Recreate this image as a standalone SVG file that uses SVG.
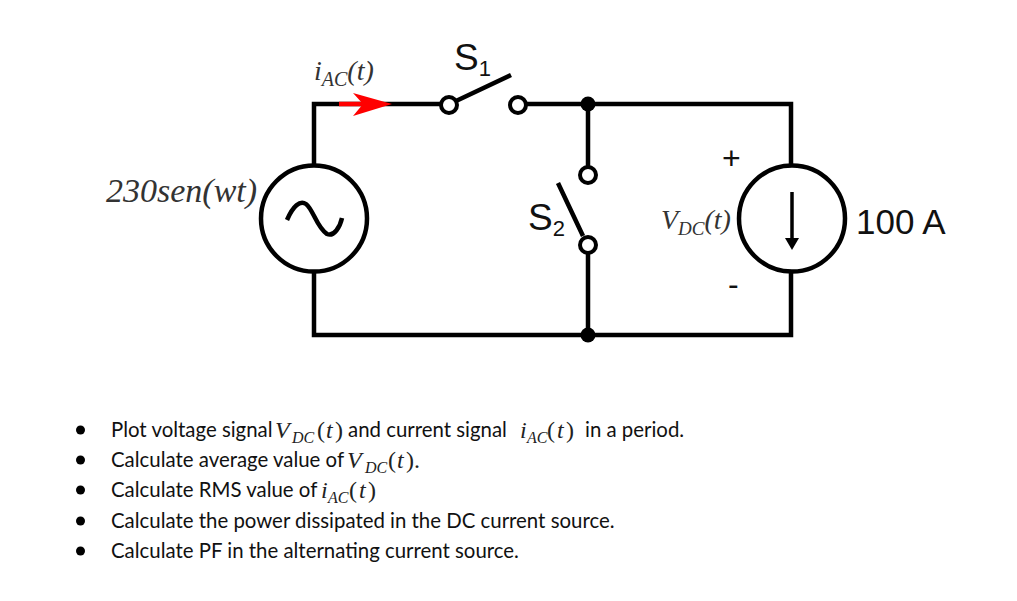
<svg xmlns="http://www.w3.org/2000/svg" width="1017" height="601" viewBox="0 0 1017 601">
<style>
.w{fill:none;stroke:#000;stroke-width:4.5}
.t{fill:none;stroke:#000;stroke-width:4.5}
.h{fill:#fff;stroke:#000;stroke-width:4}
.s{font-family:"Liberation Sans",Arial,sans-serif;fill:#111}
.m{font-family:"Liberation Serif","Times New Roman",serif;font-style:italic;fill:#333}
.b{font-family:Lato,"Open Sans",sans-serif;font-size:20.4px;fill:#111}
.c{font-family:"Liberation Serif","Times New Roman",serif;font-size:24px;fill:#222}
.i{font-style:italic}
.u{font-size:16px;font-style:italic}
</style>
<g id="connectors">
<path class="w" d="M314 165V104H449M518 104H791V164M791 273V335H314V272M588 104V175M588 245V335"/>
<path class="t" d="M456 101L511 75M558 183L583 236"/>
<path d="M339 104H375" fill="none" stroke="#f00" stroke-width="4.5"/>
<path d="M353 93L392 104L353 116L363 104z" fill="#f00"/>
</g>
<g id="junction-top"><circle cx="588" cy="104" r="7.5" fill="#000"/></g>
<g id="junction-bottom"><circle cx="588" cy="335" r="7.5" fill="#000"/></g>
<g id="s1">
<circle class="h" cx="449" cy="105" r="8"/><circle class="h" cx="518" cy="105" r="8"/>
<text class="s" x="454" y="70" font-size="37">S<tspan font-size="22" dy="6">1</tspan></text>
</g>
<g id="s2">
<circle class="h" cx="588" cy="175" r="8"/><circle class="h" cx="588" cy="245" r="8"/>
<text class="s" x="528" y="230" font-size="37">S<tspan font-size="22" dy="6">2</tspan></text>
</g>
<g id="ac-source">
<circle class="t" cx="314" cy="218.500" r="53" fill="#fff"/>
<path class="t" d="M287 220C293 206 300 200 306 204C313 209 317 228 327 234C334 237 340 227 342 218"/>
<text class="m" x="106" y="202" font-size="34">230sen(wt)</text>
</g>
<g id="dc-source">
<circle class="t" cx="792" cy="218.500" r="53" fill="#fff"/>
<path d="M792 192V240" fill="none" stroke="#000" stroke-width="3.500"/>
<path d="M785 238L799 238L792 250z" fill="#000"/>
<text class="s" x="856" y="234" font-size="35">100 A</text>
<text class="s" x="722" y="169" font-size="32">+</text>
<text class="s" x="728" y="295" font-size="32">-</text>
<text class="m" x="661" y="229" font-size="28">V<tspan font-size="19" dy="6">DC</tspan><tspan font-size="28" dy="-6">(t)</tspan></text>
</g>
<g id="current-label">
<text class="m" x="314" y="80" font-size="28">i<tspan font-size="20" dy="6">AC</tspan><tspan font-size="28" dy="-6">(t)</tspan></text>
</g>
<g id="tasks">
<circle cx="80.500" cy="430" r="4.500"/><circle cx="80.500" cy="460" r="4.500"/><circle cx="80.500" cy="490" r="4.500"/><circle cx="80.500" cy="521" r="4.500"/><circle cx="80.500" cy="551" r="4.500"/>
<text class="b" x="111" y="437">Plot voltage signal</text>
<text class="c" y="438"><tspan class="i" x="275">V</tspan><tspan class="u" dy="5" x="292">DC</tspan><tspan dy="-5" x="317">(</tspan><tspan class="i" x="326">t</tspan><tspan x="335">)</tspan></text>
<text class="b" x="348" y="437">and current signal</text>
<text class="c" y="438"><tspan class="i" x="520">i</tspan><tspan class="u" dy="5" x="527">AC</tspan><tspan dy="-5" x="547">(</tspan><tspan class="i" x="557">t</tspan><tspan x="566">)</tspan></text>
<text class="b" x="585" y="437">in a period.</text>
<text class="b" x="111" y="467">Calculate average value of</text>
<text class="c" y="468"><tspan class="i" x="347">V</tspan><tspan class="u" dy="5" x="365">DC</tspan><tspan dy="-5" x="388">(</tspan><tspan class="i" x="397">t</tspan><tspan x="406">).</tspan></text>
<text class="b" x="111" y="497">Calculate RMS value of</text>
<text class="c" y="498"><tspan class="i" x="321">i</tspan><tspan class="u" dy="5" x="328">AC</tspan><tspan dy="-5" x="349">(</tspan><tspan class="i" x="359">t</tspan><tspan x="368">)</tspan></text>
<text class="b" x="111" y="528">Calculate the power dissipated in the DC current source.</text>
<text class="b" x="111" y="558">Calculate PF in the alternating current source.</text>
</g>
</svg>
